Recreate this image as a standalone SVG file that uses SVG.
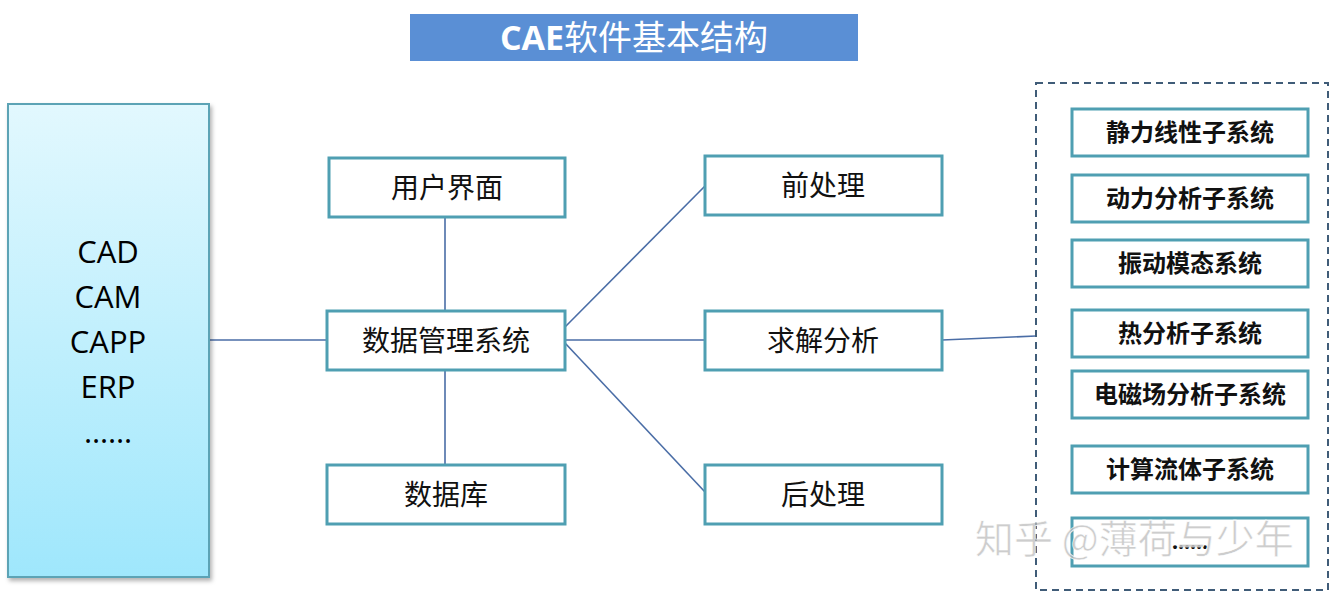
<svg xmlns="http://www.w3.org/2000/svg" width="1332" height="592" viewBox="0 0 1332 592">
<defs>
<linearGradient id="lg" x1="0" y1="0" x2="0" y2="1">
<stop offset="0" stop-color="#E2F8FE"/>
<stop offset="1" stop-color="#9FE7FC"/>
</linearGradient>
<filter id="sh" x="-10%" y="-10%" width="130%" height="130%">
<feDropShadow dx="2" dy="3" stdDeviation="2" flood-color="#000" flood-opacity="0.3"/>
</filter>
</defs>
<style>
.box{fill:#fff;stroke:#4F9FB2;stroke-width:3}
.sub{fill:#fff;stroke:#4F9FB2;stroke-width:3}
.lbl{font-family:"Liberation Serif","Noto Sans CJK SC",serif;font-size:28px;fill:#111;text-anchor:middle}
.sl{font-family:"Liberation Serif","Noto Sans CJK SC",serif;font-size:24px;font-weight:bold;fill:#111;text-anchor:middle}
.big{font-family:"Open Sans","Liberation Sans",sans-serif;font-size:31px;fill:#000;text-anchor:middle}
.conn line{stroke:#4A6DA6;stroke-width:1.6}
</style>
<rect width="1332" height="592" fill="#fff"/>
<g id="title">
<rect x="410" y="14" width="448" height="47" fill="#5A8FD5"/>
<text x="634" y="50" text-anchor="middle" font-family="Open Sans, Noto Sans CJK SC, sans-serif" font-size="34" font-weight="bold" fill="#fff">CAE<tspan font-weight="normal">软件基本结构</tspan></text>
</g>
<g class="conn">
<line x1="209" y1="340" x2="327" y2="340"/>
<line x1="445" y1="217" x2="445" y2="311"/>
<line x1="445" y1="370" x2="445" y2="465"/>
<line x1="565" y1="327" x2="705" y2="186"/>
<line x1="565" y1="340" x2="705" y2="340"/>
<line x1="565" y1="343" x2="705" y2="492"/>
<line x1="942" y1="340" x2="1036" y2="336"/>
</g>
<g id="external">
<rect x="8" y="104" width="201" height="473" fill="url(#lg)" stroke="#5BA3B5" stroke-width="2" filter="url(#sh)"/>
<text class="big" x="108" y="263">CAD</text>
<text class="big" x="108" y="308">CAM</text>
<text class="big" x="108" y="353">CAPP</text>
<text class="big" x="108" y="398">ERP</text>
<text class="big" x="108" y="443">……</text>
</g>
<g id="ui"><rect class="box" x="329" y="158" width="236" height="59"/><text class="lbl" x="447" y="198">用户界面</text></g>
<g id="dms"><rect class="box" x="327" y="311" width="238" height="59"/><text class="lbl" x="446" y="351">数据管理系统</text></g>
<g id="db"><rect class="box" x="327" y="465" width="238" height="59"/><text class="lbl" x="446" y="505">数据库</text></g>
<g id="pre"><rect class="box" x="705" y="156" width="237" height="59"/><text class="lbl" x="823" y="196">前处理</text></g>
<g id="solve"><rect class="box" x="705" y="311" width="237" height="59"/><text class="lbl" x="823" y="351">求解分析</text></g>
<g id="post"><rect class="box" x="705" y="465" width="237" height="59"/><text class="lbl" x="823" y="505">后处理</text></g>
<g id="subsystems">
<rect x="1036" y="83" width="292" height="507" fill="none" stroke="#405C78" stroke-width="2" stroke-dasharray="7,5"/>
</g>
<g id="s1"><rect class="sub" x="1072" y="109" width="236" height="47"/><text class="sl" x="1190" y="141">静力线性子系统</text></g>
<g id="s2"><rect class="sub" x="1072" y="175" width="236" height="47"/><text class="sl" x="1190" y="207">动力分析子系统</text></g>
<g id="s3"><rect class="sub" x="1072" y="240" width="236" height="47"/><text class="sl" x="1190" y="272">振动模态系统</text></g>
<g id="s4"><rect class="sub" x="1072" y="310" width="236" height="47"/><text class="sl" x="1190" y="342">热分析子系统</text></g>
<g id="s5"><rect class="sub" x="1072" y="371" width="236" height="47"/><text class="sl" x="1190" y="403">电磁场分析子系统</text></g>
<g id="s6"><rect class="sub" x="1072" y="446" width="236" height="47"/><text class="sl" x="1190" y="478">计算流体子系统</text></g>
<g id="s7"><rect class="sub" x="1072" y="518" width="236" height="48"/><text class="sl" x="1190" y="549">......</text></g>
<text x="975" y="553" font-family="Noto Sans CJK SC, sans-serif" font-size="39" fill="#bdbdbd" fill-opacity="0.75" stroke="#fff" stroke-width="0.6">知乎 @薄荷与少年</text>
</svg>
